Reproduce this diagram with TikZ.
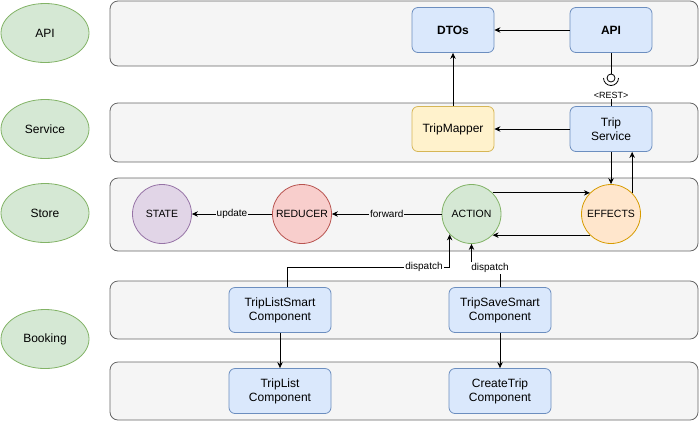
\documentclass[tikz,border=0pt]{standalone}
\usepackage{fontspec}
\setmainfont{Liberation Sans}
\usepackage{tikz}
\usetikzlibrary{calc,arrows.meta,shapes.geometric}

\definecolor{lanefill}{HTML}{F5F5F5}
\definecolor{lanedraw}{HTML}{666666}
\definecolor{bluefill}{HTML}{DAE8FC}
\definecolor{bluedraw}{HTML}{6C8EBF}
\definecolor{yellowfill}{HTML}{FFF2CC}
\definecolor{yellowdraw}{HTML}{D6B656}
\definecolor{greenfill}{HTML}{D5E8D4}
\definecolor{greendraw}{HTML}{82B366}
\definecolor{purplefill}{HTML}{E1D5E7}
\definecolor{purpledraw}{HTML}{9673A6}
\definecolor{redfill}{HTML}{F8CECC}
\definecolor{reddraw}{HTML}{B85450}
\definecolor{orangefill}{HTML}{FFE6CC}
\definecolor{orangedraw}{HTML}{D79B00}

\begin{document}
\begin{tikzpicture}[x=1pt, y=-1pt,
  lane/.style = {draw=lanedraw, fill=lanefill, line width=0.8pt, rounded corners=8pt},
  layer/.style = {ellipse, draw=greendraw, fill=greenfill, line width=0.8pt,
    minimum width=88pt, minimum height=59pt, inner sep=0pt, font=\fontsize{12}{14}\selectfont},
  box/.style = {rectangle, rounded corners=6pt, draw=bluedraw, fill=bluefill, line width=0.8pt,
    minimum width=82pt, minimum height=45pt, inner sep=0pt, align=center,
    font=\fontsize{12}{14}\selectfont},
  widebox/.style = {box, minimum width=102pt},
  ngrx/.style = {circle, draw, line width=0.8pt, minimum size=59pt, inner sep=0pt,
    font=\fontsize{10.5}{12}\selectfont},
  arr/.style = {-{Stealth[length=6pt,width=5.5pt]}, line width=0.8pt},
  elbl/.style = {fill=lanefill, inner sep=1pt, font=\fontsize{10}{12}\selectfont},
  dlbl/.style = {fill=white, inner sep=1pt, font=\fontsize{10}{12}\selectfont},
  iface/.style = {circle, draw, line width=0.8pt, minimum size=8pt, inner sep=0pt, fill=white}]
  \useasboundingbox (0,0) rectangle (700,421);

  % swim lanes
  \draw[lane] (110,1) rectangle (698,66);
  \draw[lane] (110,103) rectangle (698,162);
  \draw[lane] (110,178) rectangle (698,251);
  \draw[lane] (110,281) rectangle (698,339);
  \draw[lane] (110,362) rectangle (698,420);

  % layers
  \node[layer] (layapi) at (45,33) {API};
  \node[layer] (laysrv) at (45,129) {Service};
  \node[layer] (laystore) at (45,213) {Store};
  \node[layer] (laybook) at (45,339) {Booking};

  % api + service
  \node[box, font=\fontsize{12}{14}\selectfont\bfseries] (dtos) at (453,30) {DTOs};
  \node[box, font=\fontsize{12}{14}\selectfont\bfseries] (api) at (611,30) {API};
  \node[box, draw=yellowdraw, fill=yellowfill] (mapper) at (453,129) {TripMapper};
  \node[box] (tripsrv) at (611,129) {Trip\\Service};

  % store
  \node[ngrx, draw=purpledraw, fill=purplefill] (state) at (162,214) {STATE};
  \node[ngrx, draw=reddraw, fill=redfill] (reducer) at (302,214) {REDUCER};
  \node[ngrx, draw=greendraw, fill=greenfill] (action) at (471.5,214) {ACTION};
  \node[ngrx, draw=orangedraw, fill=orangefill] (effects) at (611,214) {EFFECTS};

  % booking
  \node[widebox] (listsmart) at (280,310) {TripListSmart\\Component};
  \node[widebox] (savesmart) at (500,310) {TripSaveSmart\\Component};
  \node[widebox] (triplist) at (280,391) {TripList\\Component};
  \node[widebox] (createtrip) at (500,391) {CreateTrip\\Component};

  % REST interface
  \node[iface] (plug) at (611,78) {};
  \node[inner sep=1pt, font=\fontsize{9}{10}\selectfont] (rest) at (611,95) {<REST>};
  \draw[line width=0.8pt] (api) -- (plug);
  \draw[line width=0.8pt] ($(plug)+(-7.5pt,0pt)$) arc[start angle=180, end angle=360, radius=7.5pt];
  \draw[line width=0.8pt] (rest) -- (tripsrv);

  \draw[arr] (api) -- (dtos);
  \draw[arr] (mapper) -- (dtos);
  \draw[arr] (tripsrv) -- (mapper);
  \draw[arr] (tripsrv) -- (effects);
  \draw[arr] (effects.45) -- (effects.45 |- tripsrv.south);
  \draw[arr] (action.45) -- (effects.135);
  \draw[arr] (effects.225) -- (action.315);
  \draw[arr] (action) -- node[elbl] (fwd) {forward} (reducer);
  \draw[arr] (reducer) -- node[elbl] (upd) {update} (state);

  \coordinate (d1) at (action.223 |- 0,267);
  \coordinate (d2) at (action.south |- 0,266);
  \draw[arr] ([xshift=7pt]listsmart.north) |- (d1) -- (action.223);
  \draw[arr] (savesmart.north) |- (d2) -- (action.south);
  \node[dlbl] (disp1) at (424,267) {dispatch};
  \node[dlbl] (disp2) at (490,268) {dispatch};

  \draw[arr] (listsmart) -- (triplist);
  \draw[arr] (savesmart) -- (createtrip);
\end{tikzpicture}
\end{document}
